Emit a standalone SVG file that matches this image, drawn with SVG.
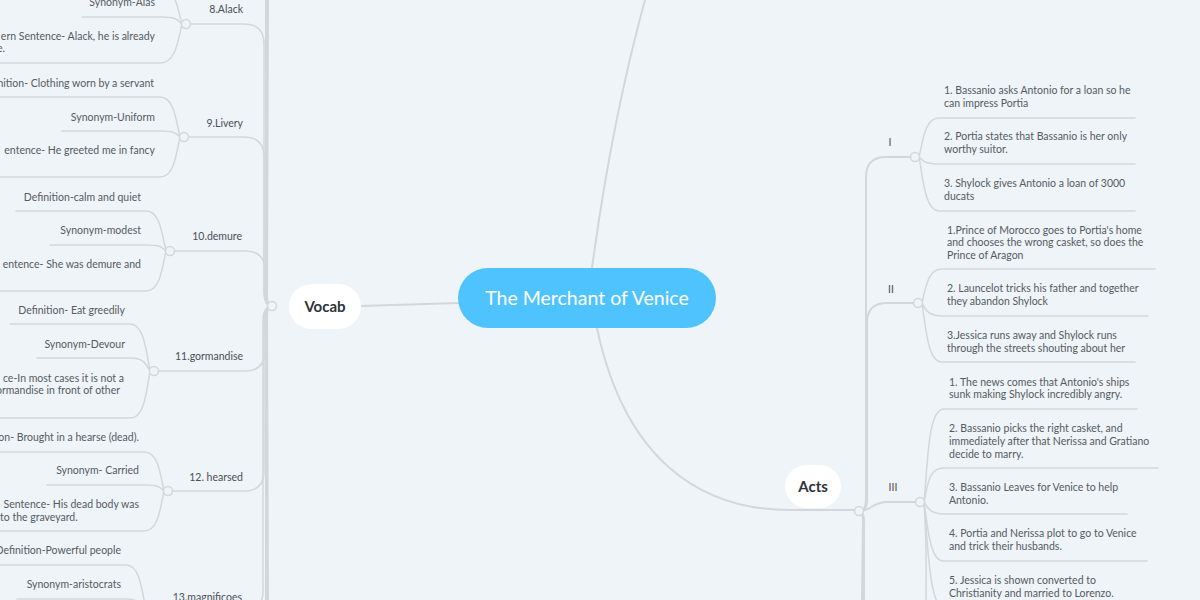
<svg xmlns="http://www.w3.org/2000/svg" width="1200" height="600" viewBox="0 0 1200 600">
<style>
.bg{fill:#eff4f8}
.ln{fill:none;stroke:#d3d7db;stroke-width:1.5;stroke-linecap:round}
.tr{fill:none;stroke:#d3d7db;stroke-width:2;stroke-linecap:round}
.dot{fill:#eff4f8;stroke:#d3d7db;stroke-width:1.5}
.t{font-family:Lato,"Noto Sans",sans-serif;font-size:10.5px;fill:#555b61}
.e{text-anchor:end}
.lb{font-family:Lato,"Noto Sans",sans-serif;font-size:10.5px;fill:#4a4f55}
.mid{text-anchor:middle}
.hd{font-family:Lato,"Noto Sans",sans-serif;font-size:15px;font-weight:bold;fill:#2f3338;text-anchor:middle}
</style>
<rect class="bg" x="0" y="0" width="1200" height="600"/>
<g id="connectors">
  <!-- central -->
  <path class="tr" d="M592 268 Q612 120 645 0"/>
  <path class="tr" d="M361 306 L458 303"/>
  <path class="tr" d="M597 328 C625 460 700 510 790 510 L854 510"/>
  <!-- vocab trunk -->
  <path class="tr" d="M272 306 Q266 306 266 296 L266 0"/>
  <path class="tr" d="M272 306 Q267 306 267 296 L268 0"/>
  <path class="tr" d="M272 306 Q266 306 266 316 L266 600"/>
  <path class="tr" d="M272 306 Q267 306 267 316 L268 600"/>
  <path class="ln" d="M272 306 Q264 306 264 290 L264 44 Q264 24 244 24 L190 24"/>
  <path class="ln" d="M272 306 Q264 306 264 290 L264 157 Q264 137 244 137 L188 137"/>
  <path class="ln" d="M272 306 Q265 306 265 290 L265 271 Q265 251 245 251 L174 251"/>
  <path class="ln" d="M272 306 Q265 306 265 322 L265 351 Q265 371 245 371 L158 371"/>
  <path class="ln" d="M272 306 Q264 306 264 322 L264 471 Q264 491 244 491 L172 491"/>
  <path class="ln" d="M272 306 Q263 306 263 322 L263 591 Q263 611 243 611 L155 611"/>
  <!-- 8.Alack -->
  <path class="ln" d="M182 24 C178 10 174 -17 160 -17 L0 -17"/>
  <path class="ln" d="M182 24 C178 20 176 17 162 17 L82 17"/>
  <path class="ln" d="M182 24 C178 40 176 63 160 63 L0 63"/>
  <!-- 9.Livery -->
  <path class="ln" d="M180 137 C176 120 174 97 160 97 L0 97"/>
  <path class="ln" d="M180 137 C176 133 174 131 160 131 L62 131"/>
  <path class="ln" d="M180 137 C176 155 174 177 160 177 L0 177"/>
  <!-- 10.demure -->
  <path class="ln" d="M166 251 C162 234 160 211 146 211 L16 211"/>
  <path class="ln" d="M166 251 C162 247 160 245 146 245 L50 245"/>
  <path class="ln" d="M166 251 C162 269 160 291 146 291 L0 291"/>
  <!-- 11.gormandise -->
  <path class="ln" d="M150 371 C146 350 144 324 130 324 L10 324"/>
  <path class="ln" d="M150 371 C146 364 144 358 130 358 L37 358"/>
  <path class="ln" d="M150 371 C146 395 144 418 130 418 L0 418"/>
  <!-- 12. hearsed -->
  <path class="ln" d="M164 491 C160 472 158 452 144 452 L0 452"/>
  <path class="ln" d="M164 491 C160 487 158 485 144 485 L47 485"/>
  <path class="ln" d="M164 491 C160 510 158 531 144 531 L0 531"/>
  <!-- 13.magnificoes -->
  <path class="ln" d="M146 611 C142 590 140 565 126 565 L0 565"/>
  <path class="ln" d="M146 611 C142 605 140 599 126 599 L17 599"/>
  <!-- Acts trunk -->
  <path class="tr" d="M859 511 Q866 511 866 500 L866 177 Q866 157 886 157 L910 157"/>
  <path class="tr" d="M859 511 Q867 511 867 500 L867 323 Q867 303 887 303 L913 303"/>
  <path class="tr" d="M859 511 C872 511 872 502 887 502 L915 502"/>
  <path class="tr" d="M859 511 Q864 511 864 522 L864 600"/>
  <path class="tr" d="M859 511 Q863 511 863 522 L862 600"/>
  <!-- Act I -->
  <path class="ln" d="M919 157 C923 140 925 118 939 118 L1135 118"/>
  <path class="ln" d="M919 157 C923 161 925 164 939 164 L1135 164"/>
  <path class="ln" d="M919 157 C923 178 925 211 939 211 L1135 211"/>
  <!-- Act II -->
  <path class="ln" d="M922 303 C926 286 928 269 942 269 L1155 269"/>
  <path class="ln" d="M922 303 C926 310 928 316 942 316 L1148 316"/>
  <path class="ln" d="M922 303 C926 330 928 362 942 362 L1135 362"/>
  <!-- Act III -->
  <path class="ln" d="M924 502 C928 460 928 409 944 409 L1137 409"/>
  <path class="ln" d="M924 502 C928 485 928 468 944 468 L1158 468"/>
  <path class="ln" d="M924 502 C928 508 930 514 944 514 L1127 514"/>
  <path class="ln" d="M924 502 C928 530 930 561 944 561 L1147 561"/>
  <path class="ln" d="M924 502 C928 550 930 608 944 608 L1140 608"/>
  <path class="ln" d="M924 502 C927 540 926 580 926 600"/>
</g>
<g id="dots">
  <circle class="dot" cx="272" cy="306" r="4.5"/>
  <circle class="dot" cx="186" cy="24" r="4.5"/>
  <circle class="dot" cx="184" cy="137" r="4.5"/>
  <circle class="dot" cx="170" cy="251" r="4.5"/>
  <circle class="dot" cx="154" cy="371" r="4.5"/>
  <circle class="dot" cx="168" cy="491" r="4.5"/>
  <circle class="dot" cx="859" cy="511" r="4.5"/>
  <circle class="dot" cx="915" cy="157" r="4.5"/>
  <circle class="dot" cx="918" cy="303" r="4.5"/>
  <circle class="dot" cx="920" cy="502" r="4.5"/>
</g>
<g id="central">
  <rect x="458" y="268" width="258" height="60" rx="30" fill="#4fc3fd"/>
  <text x="587" y="305" font-family="Lato,'Noto Sans',sans-serif" font-size="19.5" fill="#ffffff" text-anchor="middle">The Merchant of Venice</text>
</g>
<g id="vocab">
  <rect x="289" y="284" width="72" height="45" rx="22.5" fill="#ffffff"/>
  <text class="hd" x="325" y="311.5">Vocab</text>
</g>
<g id="acts">
  <rect x="785" y="465" width="56" height="43" rx="21.5" fill="#ffffff"/>
  <text class="hd" x="813" y="491.5">Acts</text>
</g>
<g id="w8">
  <text class="lb e" x="243" y="12.5">8.Alack</text>
  <text class="t e" x="155" y="6">Synonym-Alas</text>
  <text class="t e" x="155" y="39.5">ern Sentence- Alack, he is already</text>
  <text class="t" x="-3" y="51.5">e.</text>
</g>
<g id="w9">
  <text class="lb e" x="243" y="126.5">9.Livery</text>
  <text class="t e" x="154" y="86.5">nition- Clothing worn by a servant</text>
  <text class="t e" x="155" y="120.5">Synonym-Uniform</text>
  <text class="t e" x="155" y="153.5">entence- He greeted me in fancy</text>
</g>
<g id="w10">
  <text class="lb e" x="242" y="239.5">10.demure</text>
  <text class="t e" x="141" y="200.5">Definition-calm and quiet</text>
  <text class="t e" x="141" y="233.5">Synonym-modest</text>
  <text class="t e" x="141" y="267.5">entence- She was demure and</text>
</g>
<g id="w11">
  <text class="lb e" x="243" y="359.5">11.gormandise</text>
  <text class="t e" x="125" y="313.5">Definition- Eat greedily</text>
  <text class="t e" x="125" y="347.5">Synonym-Devour</text>
  <text class="t e" x="124" y="381.5">ce-In most cases it is not a</text>
  <text class="t e" x="120" y="393.5">ormandise in front of other</text>
</g>
<g id="w12">
  <text class="lb e" x="243" y="480.5">12. hearsed</text>
  <text class="t e" x="139" y="440.5">on- Brought in a hearse (dead).</text>
  <text class="t e" x="139" y="473.5">Synonym- Carried</text>
  <text class="t e" x="139" y="507.5">Sentence- His dead body was</text>
  <text class="t" x="0" y="520.5">to the graveyard.</text>
</g>
<g id="w13">
  <text class="lb e" x="242" y="601">13.magnificoes</text>
  <text class="t e" x="121" y="553.5">Definition-Powerful people</text>
  <text class="t e" x="121" y="587.5">Synonym-aristocrats</text>
</g>
<g id="act1">
  <text class="lb mid" x="890" y="146">I</text>
  <text class="t" x="944" y="93.5">1. Bassanio asks Antonio for a loan so he</text>
  <text class="t" x="944" y="106.5">can impress Portia</text>
  <text class="t" x="944" y="140">2. Portia states that Bassanio is her only</text>
  <text class="t" x="944" y="153">worthy suitor.</text>
  <text class="t" x="944" y="186.5">3. Shylock gives Antonio a loan of 3000</text>
  <text class="t" x="944" y="199.5">ducats</text>
</g>
<g id="act2">
  <text class="lb mid" x="891" y="292.5">II</text>
  <text class="t" x="947" y="233.5">1.Prince of Morocco goes to Portia's home</text>
  <text class="t" x="947" y="246">and chooses the wrong casket, so does the</text>
  <text class="t" x="947" y="259">Prince of Aragon</text>
  <text class="t" x="947" y="291.5">2. Launcelot tricks his father and together</text>
  <text class="t" x="947" y="304.5">they abandon Shylock</text>
  <text class="t" x="947" y="338.5">3.Jessica runs away and Shylock runs</text>
  <text class="t" x="947" y="351.5">through the streets shouting about her</text>
</g>
<g id="act3">
  <text class="lb mid" x="893" y="490.5">III</text>
  <text class="t" x="949" y="385.5">1. The news comes that Antonio's ships</text>
  <text class="t" x="949" y="398">sunk making Shylock incredibly angry.</text>
  <text class="t" x="949" y="431.5">2. Bassanio picks the right casket, and</text>
  <text class="t" x="949" y="444.5">immediately after that Nerissa and Gratiano</text>
  <text class="t" x="949" y="457.5">decide to marry.</text>
  <text class="t" x="949" y="490.5">3. Bassanio Leaves for Venice to help</text>
  <text class="t" x="949" y="503.5">Antonio.</text>
  <text class="t" x="949" y="536.5">4. Portia and Nerissa plot to go to Venice</text>
  <text class="t" x="949" y="549.5">and trick their husbands.</text>
  <text class="t" x="949" y="583.5">5. Jessica is shown converted to</text>
  <text class="t" x="949" y="596.5">Christianity and married to Lorenzo.</text>
</g>
</svg>
